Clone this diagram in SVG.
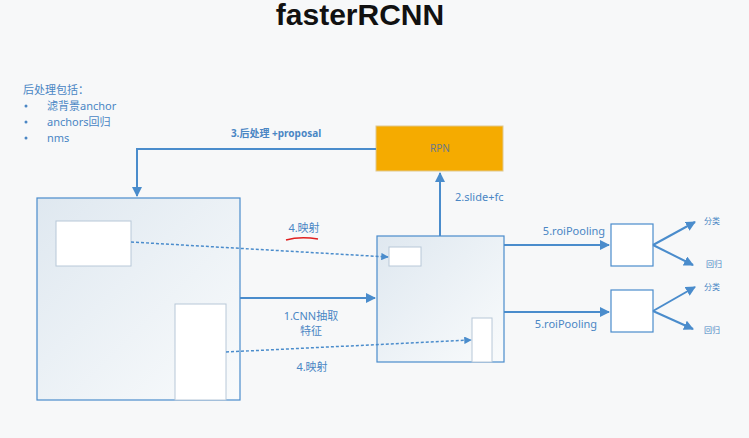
<svg xmlns="http://www.w3.org/2000/svg" width="749" height="438" viewBox="0 0 749 438">
<style>
text{font-family:"Noto Sans","Noto Sans CJK SC",sans-serif;fill:#4a86c4}
.ln{stroke:#4a8ccc;stroke-width:2;fill:none}
.dl{stroke:#4a8ccc;stroke-width:1.5;fill:none;stroke-dasharray:3 2}
.inner{fill:#fff;stroke:#b8c8d8;stroke-width:1}
.sq{fill:#fff;stroke:#4a8ccc;stroke-width:1.2}
.s{font-size:11px}
.xs{font-size:8px}
</style>
<defs>
<linearGradient id="g" x1="0" y1="0" x2="1" y2="1"><stop offset="0" stop-color="#dfe8f0"/><stop offset="1" stop-color="#f9fbfc"/></linearGradient>
<marker id="a" viewBox="0 0 10 10" refX="9" refY="5" markerWidth="5" markerHeight="5" orient="auto"><path d="M0,0L10,5L0,10z" fill="#4a8ccc"/></marker>
</defs>
<rect width="749" height="438" fill="#f7f8f9"/>
<text x="360" y="25" text-anchor="middle" style="fill:#111;font-weight:bold;font-size:30px;font-family:'Liberation Sans',sans-serif">fasterRCNN</text>
<g id="notes">
<text x="23" y="94" class="s">后处理包括：</text>
<circle cx="26" cy="106" r="1.5" fill="#4a86c4"/><text x="47" y="110" class="s">滤背景anchor</text>
<circle cx="26" cy="122" r="1.5" fill="#4a86c4"/><text x="47" y="126" class="s">anchors回归</text>
<circle cx="26" cy="138" r="1.5" fill="#4a86c4"/><text x="47" y="142" class="s">nms</text>
</g>
<g id="img"><rect x="37" y="198" width="203" height="202" fill="url(#g)" stroke="#4a8ccc" stroke-width="1.2"/>
<rect class="inner" x="56" y="221" width="75" height="45"/><rect class="inner" x="175" y="304" width="51" height="96"/></g>
<g id="feat"><rect x="377" y="236" width="127" height="126" fill="url(#g)" stroke="#4a8ccc" stroke-width="1.2"/>
<rect class="inner" x="389" y="247" width="32" height="19"/><rect class="inner" x="472" y="318" width="20" height="44"/></g>
<g id="rpn"><rect x="376" y="126" width="127" height="45" fill="#f5ab00" stroke="#e0c890"/><text x="440" y="152" text-anchor="middle" style="font-size:10px;fill:#6a7a8a">RPN</text></g>
<g id="roi1"><rect class="sq" x="611" y="224" width="42" height="42"/></g>
<g id="roi2"><rect class="sq" x="611" y="290" width="42" height="42"/></g>
<g id="connectors">
<path class="ln" d="M376,149H137V196" marker-end="url(#a)"/>
<path class="ln" d="M440,236V173" marker-end="url(#a)"/>
<path class="ln" d="M240,298H375" marker-end="url(#a)"/>
<path class="dl" d="M131,242L388,257" marker-end="url(#a)"/>
<path class="dl" d="M226,352L471,340" marker-end="url(#a)"/>
<path class="ln" d="M504,245H609" marker-end="url(#a)"/>
<path class="ln" d="M504,312H609" marker-end="url(#a)"/>
<path class="ln" d="M653,245L695,222" marker-end="url(#a)"/>
<path class="ln" d="M653,245L693,265" marker-end="url(#a)"/>
<path class="ln" d="M653,311L695,287" marker-end="url(#a)"/>
<path class="ln" d="M653,311L693,329" marker-end="url(#a)"/>
<path d="M286,240Q300,236 318,239" stroke="#e02020" stroke-width="1.5" fill="none"/>
</g>
<g id="labels">
<text x="276" y="137" text-anchor="middle" style="font-size:10px;font-weight:bold">3.后处理 +proposal</text>
<text x="455" y="201" class="s">2.slide+fc</text>
<text x="304" y="232" text-anchor="middle" class="s">4.映射</text>
<text x="311" y="320" text-anchor="middle" class="s">1.CNN抽取</text>
<text x="311" y="335" text-anchor="middle" class="s">特征</text>
<text x="312" y="371" text-anchor="middle" class="s">4.映射</text>
<text x="574" y="235" text-anchor="middle" class="s">5.roiPooling</text>
<text x="566" y="328" text-anchor="middle" class="s">5.roiPooling</text>
<text x="704" y="224" class="xs">分类</text>
<text x="706" y="267" class="xs">回归</text>
<text x="704" y="290" class="xs">分类</text>
<text x="704" y="333" class="xs">回归</text>
</g>
</svg>
